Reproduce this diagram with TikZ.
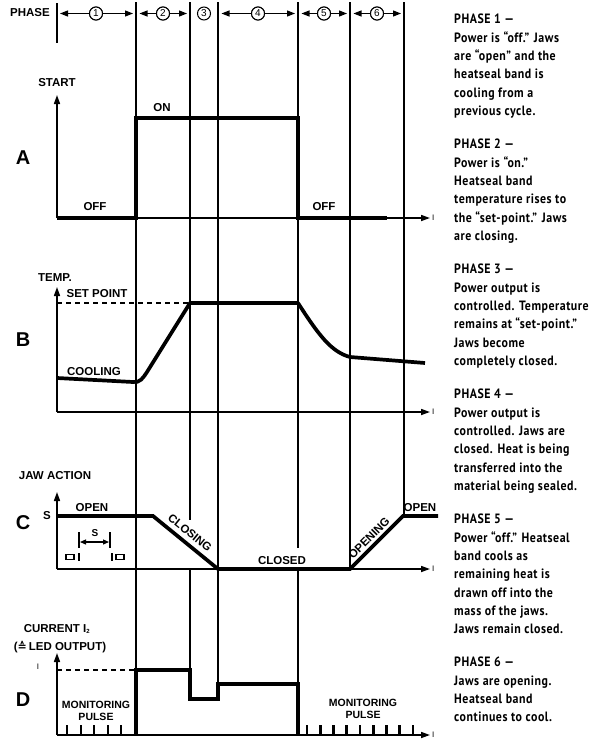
\documentclass[tikz,border=0pt]{standalone}
\usepackage{fontspec}
\setmainfont{Liberation Sans}
\newfontfamily\descfont[FakeStretch=0.88,LetterSpace=4]{PT Sans}
\newfontfamily\symfont{DejaVu Sans}
\usetikzlibrary{arrows.meta}
\begin{document}
\begin{tikzpicture}[x=1pt,y=-1pt,
  thinl/.style={line width=1.6pt},
  sig/.style={line width=3.7pt,line join=miter},
  lab/.style={font=\fontsize{11.5}{12}\selectfont\bfseries,inner sep=0pt},
  biglab/.style={font=\fontsize{20}{20}\selectfont\bfseries,inner sep=0pt},
  tlab/.style={font=\fontsize{8}{8}\selectfont,inner sep=0pt},
  axis/.style={line width=1.6pt,-{Triangle[length=9pt,width=6pt]}},
  harrow/.style={line width=1.3pt,-{Triangle[length=8pt,width=6pt]}},
  num/.style={circle,draw,line width=1pt,minimum size=13pt,inner sep=0pt,fill=white,font=\fontsize{10}{10}\selectfont},
  dashl/.style={line width=1.8pt,dash pattern=on 5pt off 4pt},
  tickl/.style={line width=2.6pt},
  desc/.style={anchor=north west,inner sep=0pt,align=left,font=\descfont\bfseries\fontsize{13.5}{18.3}\selectfont},
]
\path[use as bounding box,fill=white] (0,0) rectangle (600,744);

% ---------- phase header ----------
\node[lab] (phase) at (30,13) {PHASE};
\draw[thinl] (57,3) -- (57,43);
\draw[thinl] (136,2) -- (136,735);
\draw[thinl] (190,2) -- (190,520);
\draw[thinl] (190,569) -- (190,699);
\draw[thinl] (218,2) -- (218,684);
\draw[thinl] (298,2) -- (298,548);
\draw[thinl] (298,569) -- (298,735);
\draw[thinl] (350,2) -- (350,569);
\draw[thinl] (404,2) -- (404,516);

\node[num] (c1) at (96,13.5) {1};
\node[num] (c2) at (163,13.5) {2};
\node[num] (c3) at (204,13.5) {3};
\node[num] (c4) at (258,13.5) {4};
\node[num] (c5) at (324,13.5) {5};
\node[num] (c6) at (377,13.5) {6};
\coordinate (h1l) at (60,13.5);  \coordinate (h1r) at (133,13.5);
\coordinate (h2l) at (139.5,13.5); \coordinate (h2r) at (187,13.5);
\coordinate (h4l) at (221.5,13.5); \coordinate (h4r) at (295,13.5);
\coordinate (h5l) at (301.5,13.5); \coordinate (h5r) at (347,13.5);
\coordinate (h6l) at (353.5,13.5); \coordinate (h6r) at (401,13.5);
\draw[harrow] (c1) -- (h1l); \draw[harrow] (c1) -- (h1r);
\draw[harrow] (c2) -- (h2l); \draw[harrow] (c2) -- (h2r);
\draw[harrow] (c4) -- (h4l); \draw[harrow] (c4) -- (h4r);
\draw[harrow] (c5) -- (h5l); \draw[harrow] (c5) -- (h5r);
\draw[harrow] (c6) -- (h6l); \draw[harrow] (c6) -- (h6r);
\foreach \n in {1,2,4,5,6} {\node[num] at (c\n) {\n};}

% ---------- A ----------
\coordinate (Ao) at (57,218);
\coordinate (Ay) at (57,95);
\coordinate (Ax) at (430,218);
\node[biglab] (A) at (23,158) {A};
\node[lab] (start) at (57,83) {START};
\draw[axis] (Ao) -- (Ay);
\draw[axis] (Ao) -- (Ax);
\node[tlab,anchor=west] (Ai) at (432,218) {I};
\draw[sig] (57,218) -- (136,218) -- (136,118) -- (298,118) -- (298,218) -- (387,218);
\node[lab] (on) at (162,108) {ON};
\node[lab] (off1) at (95,207) {OFF};
\node[lab] (off2) at (324,207) {OFF};

% ---------- B ----------
\coordinate (Bo) at (57,412);
\coordinate (By) at (57,287);
\coordinate (Bx) at (430,412);
\node[biglab] (B) at (23,340) {B};
\node[lab] (temp) at (55,278) {TEMP.};
\draw[axis] (Bo) -- (By);
\draw[axis] (Bo) -- (Bx);
\node[tlab,anchor=west] (Bi) at (432,412) {I};
\node[lab] (setp) at (97,294) {SET POINT};
\draw[dashl] (57,303) -- (188,303);
\node[lab] (cool) at (94,372) {COOLING};
\draw[sig,line join=round] (57,378) -- (133,382) .. controls (140,383) and (143,378) .. (147,372)
  -- (190,303) -- (298,303) .. controls (318,334) and (331,352) .. (350,357) -- (425,363);

% ---------- C ----------
\coordinate (Co) at (57,569);
\coordinate (Cy) at (57,492);
\coordinate (Cx) at (430,569);
\node[biglab] (C) at (23,523) {C};
\node[lab] (jaw) at (55,476) {JAW ACTION};
\node[lab] (s1) at (47,516) {S};
\draw[axis] (Co) -- (Cy);
\draw[axis] (Co) -- (Cx);
\node[tlab,anchor=west] (Ci) at (432,569) {I};
\draw[sig] (57,516) -- (153,516) -- (218,569) -- (350,569) -- (403,516) -- (438,516);
\node[lab] (open1) at (92,508) {OPEN};
\node[lab] (open2) at (420,508) {OPEN};
\node[lab,rotate=-39] (closing) at (190,533) {CLOSING};
\node[lab,rotate=45] (opening) at (369,538) {OPENING};
\node[lab] (closed) at (282,561) {CLOSED};
% S dimension
\draw[line width=1.2pt] (79,532) -- (79,548);
\draw[line width=1.2pt] (110,532) -- (110,548);
\coordinate (sl) at (80,542);
\coordinate (sr) at (109,542);
\draw[line width=1.2pt,{Triangle[length=6pt,width=5pt]}-{Triangle[length=6pt,width=5pt]}] (sl) -- (sr);
\node[lab,font=\fontsize{10}{10}\selectfont\bfseries] (s2) at (95,533) {S};
\draw[line width=1.3pt] (66,554.5) rectangle (74,559.5);
\draw[line width=1.5pt] (79,553) -- (79,561);
\draw[line width=1.5pt] (112,553) -- (112,561);
\draw[line width=1.3pt] (116,554.5) rectangle (124,559.5);

% ---------- D ----------
\coordinate (Do) at (57,735);
\coordinate (Dy) at (57,653);
\coordinate (Dx) at (430,735);
\node[biglab] (D) at (23,700) {D};
\node[lab] (cur) at (57,629) {CURRENT I\textsubscript{\fontsize{6}{6}\selectfont 2}};
\node[lab] (led) at (60,647) {({\symfont\fontsize{11}{11}\selectfont ≙}\,LED OUTPUT)};
\node[tlab] (Ilev) at (38,667) {I};
\draw[axis] (Do) -- (Dy);
\draw[axis] (Do) -- (Dx);
\node[tlab,anchor=west] (Di) at (432,735) {I};
\draw[dashl] (57,670) -- (134,670);
\draw[sig] (136,735) -- (136,670) -- (190,670) -- (190,699) -- (218,699) -- (218,684) -- (298,684) -- (298,735);
\node[lab,align=center,font=\fontsize{10.5}{12}\selectfont\bfseries] (mon1) at (96,711) {MONITORING\\PULSE};
\node[lab,align=center,font=\fontsize{10.5}{12}\selectfont\bfseries] (mon2) at (363,709) {MONITORING\\PULSE};
\foreach \x in {67,81,94,108,121} {\draw[tickl] (\x,735) -- (\x,725);}
\foreach \i in {0,...,8} {\draw[tickl] ({307+13.25*\i},735) -- ({307+13.25*\i},725);}

% ---------- description ----------
\node[desc] (p1) at (454,14) {PHASE 1 —\\Power is “off.” Jaws\\are “open” and the\\heatseal band is\\cooling from a\\previous cycle.};
\node[desc] (p2) at (454,139) {PHASE 2 —\\Power is “on.”\\Heatseal band\\temperature rises to\\the “set-point.” Jaws\\are closing.};
\node[desc] (p3) at (454,264) {PHASE 3 —\\Power output is\\controlled. Temperature\\remains at “set-point.”\\Jaws become\\completely closed.};
\node[desc] (p4) at (454,389) {PHASE 4 —\\Power output is\\controlled. Jaws are\\closed. Heat is being\\transferred into the\\material being sealed.};
\node[desc] (p5) at (454,514) {PHASE 5 —\\Power “off.” Heatseal\\band cools as\\remaining heat is\\drawn off into the\\mass of the jaws.\\Jaws remain closed.};
\node[desc] (p6) at (454,657) {PHASE 6 —\\Jaws are opening.\\Heatseal band\\continues to cool.};
\end{tikzpicture}
\end{document}
